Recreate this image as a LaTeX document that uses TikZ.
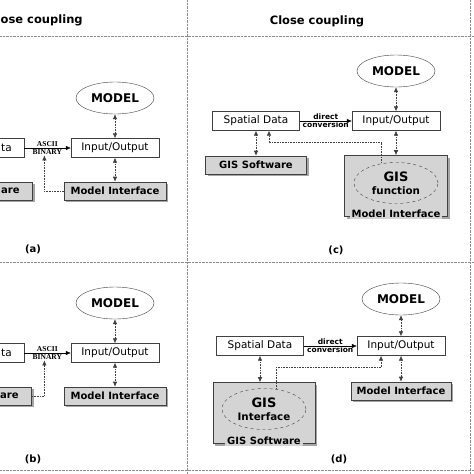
\documentclass[tikz,border=0pt]{standalone}
\usepackage{fontspec}
\setmainfont{DejaVu Sans}
\newfontfamily\codefont{Liberation Serif}
\usepackage{tikz}
\usetikzlibrary{arrows.meta,shapes.geometric,shadows}

\begin{document}
\begin{tikzpicture}[x=1pt,y=-1pt,>={Latex[length=5pt,width=4.5pt]},
  io node/.style={rectangle,draw=black!75,fill=white,minimum width=88pt,minimum height=19pt,inner sep=0pt,font=\fontsize{10.5}{12}\selectfont},
  model node/.style={ellipse,draw=black!75,fill=white,minimum width=78pt,minimum height=32pt,inner sep=0pt,font=\fontsize{12}{14}\selectfont\bfseries},
  gray node/.style={rectangle,draw=black!75,line width=0.6pt,fill=black!17,minimum height=18pt,inner sep=0pt,font=\fontsize{10}{12}\selectfont\bfseries,
    drop shadow={shadow xshift=2pt,shadow yshift=-2pt,fill=black!35,opacity=1}},
  big node/.style={gray node,minimum width=103pt,minimum height=61pt},
  fn node/.style={ellipse,draw=black!75,dashed,minimum width=84pt,minimum height=41pt,inner sep=0pt,align=center,font=\fontsize{10.3}{13}\selectfont\bfseries},
  tag node/.style={fill=black!17,inner xsep=2pt,inner ysep=1pt,font=\fontsize{10}{12}\selectfont\bfseries},
  edge lbl/.style={font=\fontsize{7.5}{8}\selectfont\bfseries,inner sep=1pt},
  code lbl/.style={font=\codefont\fontsize{7.5}{8}\selectfont\bfseries,inner sep=1pt},
  head node/.style={font=\fontsize{11.5}{14}\selectfont\bfseries},
  sub node/.style={font=\fontsize{10}{12}\selectfont\bfseries},
  link/.style={densely dotted,black!75,semithick,<->},
  frame/.style={densely dotted,black!45,thin}]

  \useasboundingbox (0,0) rectangle (474,474);

  % panel frames
  \draw[frame] (0,36) -- (474,36);
  \draw[frame] (0,262) -- (474,262);
  \draw[frame] (0,470) -- (474,470);
  \draw[frame] (187,0) -- (187,474);
  \draw[frame] (470,0) -- (470,474);

  \node[head node,anchor=west,inner xsep=0.5pt] (tla) at (0,20) {ose coupling};
  \node[head node] (tcc) at (317,21) {Close coupling};

  % (a)
  \node[io node] (ioa) at (115,148) {Input/Output};
  \node[model node] (moda) [above of=ioa,node distance=50pt] {MODEL};
  \node[gray node,minimum width=102pt] (mia) [below of=ioa,node distance=43pt] {Model Interface};
  \node[io node,anchor=east,minimum width=70pt,text width=46pt,inner xsep=12pt,align=right] (sda) at (24,148) {ta};
  \node[gray node,anchor=east,minimum width=70pt,text width=44pt,inner xsep=13pt,align=right] (gsa) at (33,191) {are};
  \node[sub node] (laba) at (33,249) {(a)};

  \path[->] (sda) edge node[code lbl,above] (asca) {ASCII} node[code lbl,below] (bina) {BINARY} (ioa);
  \path[link] (moda) edge (ioa)
    (ioa) edge (mia);
  \draw[link,->] (mia.west) -| ([xshift=-3pt]bina.south);

  % (b)
  \node[io node] (iob) at (115,353) {Input/Output};
  \node[model node] (modb) [above of=iob,node distance=50pt] {MODEL};
  \node[gray node,minimum width=102pt] (mib) [below of=iob,node distance=43pt] {Model Interface};
  \node[io node,anchor=east,minimum width=70pt,text width=46pt,inner xsep=12pt,align=right] (sdb) at (24,353) {ta};
  \node[gray node,anchor=east,minimum width=70pt,text width=44pt,inner xsep=13pt,align=right] (gsb) at (32,396) {are};
  \node[sub node] (labb) at (33,459) {(b)};

  \path[->] (sdb) edge node[code lbl,above] (ascb) {ASCII} node[code lbl,below] (binb) {BINARY} (iob);
  \path[link] (modb) edge (iob)
    (iob) edge (mib);
  \draw[link,->] (gsb.east) -| ([xshift=-3pt]binb.south);

  % (c)
  \node[io node] (ioc) at (396,121) {Input/Output};
  \node[model node] (modc) [above of=ioc,node distance=50pt] {MODEL};
  \node[io node,minimum width=87pt] (sdc) at (256,121) {Spatial Data};
  \node[gray node,minimum width=101pt] (gsc) [below of=sdc,node distance=44pt] {GIS Software};
  \node[big node] (mic) [below of=ioc,node distance=65pt] {};
  \node[fn node] (gfc) at ([yshift=3pt]mic.center) {{\fontsize{13}{15}\selectfont GIS}\\function};
  \node[tag node] (tgc) at ([yshift=3pt]mic.south) {Model Interface};
  \node[sub node] (labc) at (336,250) {(c)};

  \path[->] (sdc) edge node[edge lbl,above] (dirc) {direct} node[edge lbl,below] (conc) {conversion} (ioc);
  \path[link] (modc) edge (ioc)
    (ioc) edge (mic)
    (sdc) edge (sdc |- gsc.north);
  \draw[link,->] ([xshift=-15pt]gfc.north) |- ([xshift=13pt,yshift=-12pt]sdc.south) -- ([xshift=13pt]sdc.south);

  % (d)
  \node[io node] (iod) at (401,346) {Input/Output};
  \node[model node] (modd) [above of=iod,node distance=47pt] {MODEL};
  \node[gray node,minimum width=100pt] (mid) [below of=iod,node distance=45pt] {Model Interface};
  \node[io node,minimum width=87pt] (sdd) at (260,346) {Spatial Data};
  \node[big node,minimum width=102pt] (gsd) at (264,413) {};
  \node[fn node] (gfd) at ([yshift=4pt]gsd.center) {{\fontsize{13}{15}\selectfont GIS}\\Interface};
  \node[tag node] (tgd) at ([yshift=3pt]gsd.south) {GIS Software};
  \node[sub node] (labd) at (339,459) {(d)};

  \path[->] (sdd) edge node[edge lbl,above] (dird) {direct} node[edge lbl,below] (cond) {conversion} (iod);
  \path[link] (modd) edge (iod)
    (iod) edge (mid)
    (sdd) edge (sdd |- gsd.north);
  \draw[link,->] ([xshift=12pt]gfd.north) |- ([xshift=-20pt,yshift=-12pt]iod.south) -- ([xshift=-20pt]iod.south);

\end{tikzpicture}
\end{document}
